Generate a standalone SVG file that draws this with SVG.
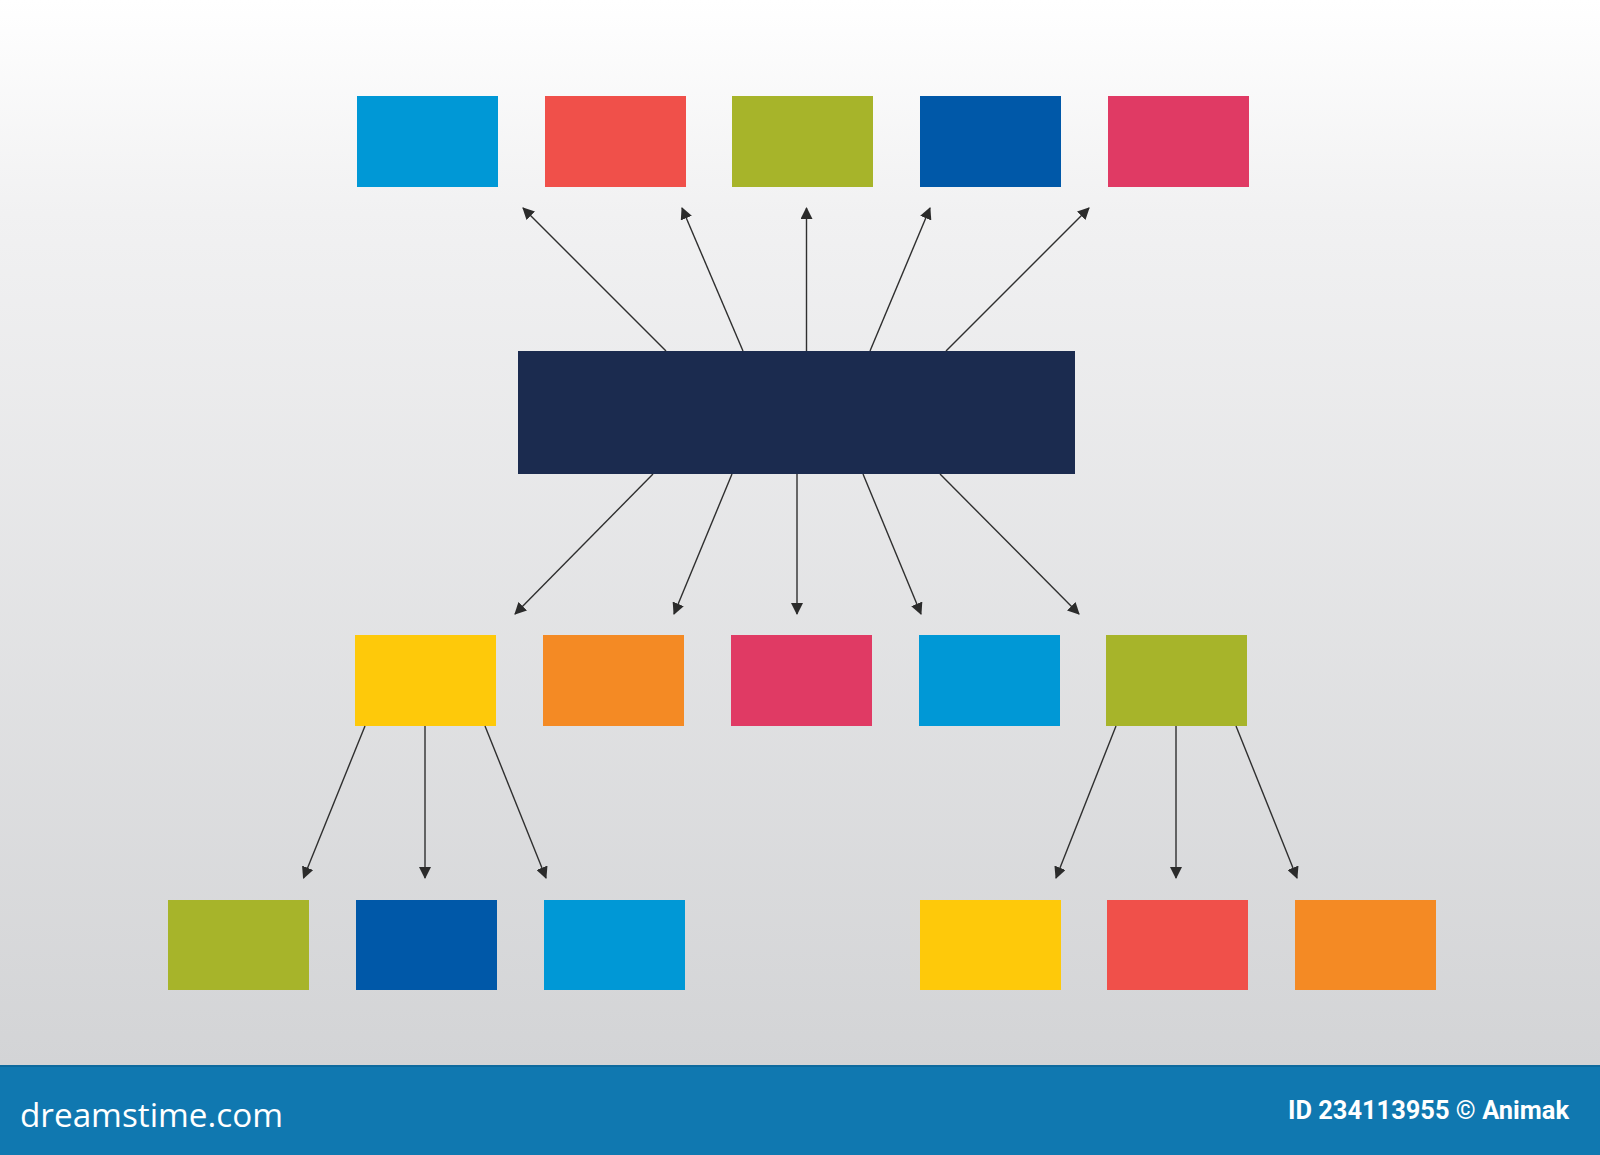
<svg xmlns="http://www.w3.org/2000/svg" width="1600" height="1155" viewBox="0 0 1600 1155">
<defs>
<linearGradient id="bg" x1="0" y1="0" x2="0" y2="1">
<stop offset="0" stop-color="#ffffff"/>
<stop offset="0.2" stop-color="#f1f1f2"/>
<stop offset="1" stop-color="#d3d4d6"/>
</linearGradient>
<marker id="ah" viewBox="0 0 12 12" refX="11" refY="6" markerWidth="12" markerHeight="12" markerUnits="userSpaceOnUse" orient="auto">
<path d="M0,0 L12,6 L0,12 Z" fill="#2b2b2b"/>
</marker>
<style>
.c line{stroke:#2f2f2f;stroke-width:1.4;fill:none;marker-end:url(#ah)}
.cyan{fill:#0098d6}.red{fill:#f0504a}.olive{fill:#a7b42a}.blue{fill:#0058a8}.pink{fill:#e03a64}
.navy{fill:#1b2b4f}.yellow{fill:#fec90a}.orange{fill:#f48a24}
.ft{fill:#ffffff}
</style>
</defs>
<rect x="0" y="0" width="1600" height="1065" fill="url(#bg)"/>
<g id="top1"><rect class="cyan" x="357" y="96" width="141" height="91"/></g>
<g id="top2"><rect class="red" x="545" y="96" width="141" height="91"/></g>
<g id="top3"><rect class="olive" x="732" y="96" width="141" height="91"/></g>
<g id="top4"><rect class="blue" x="920" y="96" width="141" height="91"/></g>
<g id="top5"><rect class="pink" x="1108" y="96" width="141" height="91"/></g>
<g id="center"><rect class="navy" x="518" y="351" width="557" height="123"/></g>
<g id="mid1"><rect class="yellow" x="355" y="635" width="141" height="91"/></g>
<g id="mid2"><rect class="orange" x="543" y="635" width="141" height="91"/></g>
<g id="mid3"><rect class="pink" x="731" y="635" width="141" height="91"/></g>
<g id="mid4"><rect class="cyan" x="919" y="635" width="141" height="91"/></g>
<g id="mid5"><rect class="olive" x="1106" y="635" width="141" height="91"/></g>
<g id="bot1"><rect class="olive" x="168" y="900" width="141" height="90"/></g>
<g id="bot2"><rect class="blue" x="356" y="900" width="141" height="90"/></g>
<g id="bot3"><rect class="cyan" x="544" y="900" width="141" height="90"/></g>
<g id="bot4"><rect class="yellow" x="920" y="900" width="141" height="90"/></g>
<g id="bot5"><rect class="red" x="1107" y="900" width="141" height="90"/></g>
<g id="bot6"><rect class="orange" x="1295" y="900" width="141" height="90"/></g>
<g id="connectors" class="c">
<line x1="666" y1="351" x2="523" y2="208"/>
<line x1="743" y1="351" x2="682" y2="208"/>
<line x1="806.5" y1="351" x2="806.5" y2="208"/>
<line x1="870" y1="351" x2="930" y2="208"/>
<line x1="946" y1="351" x2="1089" y2="208"/>
<line x1="653" y1="474" x2="515" y2="614"/>
<line x1="732" y1="474" x2="674" y2="614"/>
<line x1="797" y1="474" x2="797" y2="614"/>
<line x1="863" y1="474" x2="921" y2="614"/>
<line x1="940" y1="474" x2="1079" y2="614"/>
<line x1="365" y1="726" x2="303.5" y2="878"/>
<line x1="425" y1="726" x2="425" y2="878"/>
<line x1="485" y1="726" x2="546" y2="878"/>
<line x1="1116" y1="726" x2="1056" y2="878"/>
<line x1="1176" y1="726" x2="1176" y2="878"/>
<line x1="1236" y1="726" x2="1297" y2="878"/>
</g>
<g id="footer">
<rect x="0" y="1065" width="1600" height="90" fill="#1078b0"/>
<rect x="0" y="1065" width="1600" height="2" fill="#0e6a9d"/>
<text class="ft" x="20" y="1127" font-family="'Open Sans', sans-serif" font-size="33" textLength="263" lengthAdjust="spacingAndGlyphs">dreamstime.com</text>
<text class="ft" x="1288" y="1119" font-family="Roboto, sans-serif" font-weight="bold" font-size="25" textLength="281" lengthAdjust="spacingAndGlyphs">ID 234113955 © Animak</text>
</g>
</svg>
